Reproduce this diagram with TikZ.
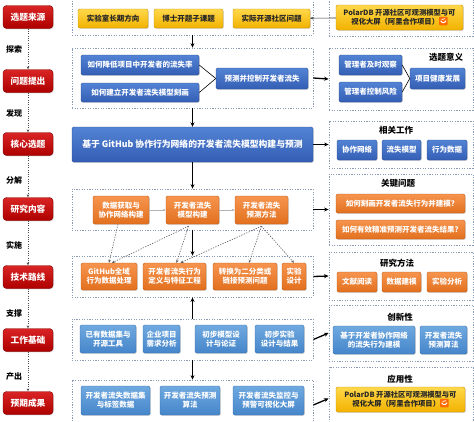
\documentclass[tikz,border=0pt]{standalone}
\usepackage{fontspec}
\setmainfont{Noto Sans CJK SC}
\usetikzlibrary{arrows.meta,shadows}
\definecolor{redT}{HTML}{D92424}
\definecolor{redB}{HTML}{AE0000}
\definecolor{redD}{HTML}{7F0000}
\definecolor{yelT}{HTML}{FFD84A}
\definecolor{yelB}{HTML}{F2B200}
\definecolor{yelD}{HTML}{C89200}
\definecolor{bluT}{HTML}{5383D4}
\definecolor{bluB}{HTML}{335EB4}
\definecolor{bluD}{HTML}{2A4F98}
\definecolor{lbT}{HTML}{6FA9E0}
\definecolor{lbB}{HTML}{4585CA}
\definecolor{lbD}{HTML}{3A72AE}
\definecolor{orT}{HTML}{F6944E}
\definecolor{orB}{HTML}{E2701E}
\definecolor{orD}{HTML}{BE5A12}
\definecolor{contc}{HTML}{8C9BB4}
\definecolor{aliorange}{HTML}{FF6A00}
\begin{document}
\begin{tikzpicture}[x=1pt,y=-1pt,
  wh/.style 2 args={minimum width=#1pt, minimum height=#2pt},
  box/.style={rectangle, rounded corners=1.5pt, inner sep=1pt, align=center,
    font=\bfseries\fontsize{7.5}{9}\selectfont, text=white, line width=0.4pt,
    drop shadow={shadow xshift=0.8pt, shadow yshift=-0.8pt, opacity=0.3}},
  redbox/.style={box, rounded corners=3.5pt, draw=redD, top color=redT, bottom color=redB,
    font=\bfseries\fontsize{8.7}{10}\selectfont, minimum width=50pt, minimum height=23pt},
  ybox/.style={box, draw=yelD, top color=yelT, bottom color=yelB, text=black!85},
  bbox/.style={box, draw=bluD, top color=bluT, bottom color=bluB},
  lbbox/.style={box, draw=lbD, top color=lbT, bottom color=lbB},
  obox/.style={box, draw=orD, top color=orT, bottom color=orB},
  cont/.style={rectangle, draw=contc, line width=0.8pt, dash pattern=on 1.2pt off 1.4pt, inner sep=0pt},
  ttl/.style={font=\bfseries\fontsize{8.5}{10}\selectfont, text=black, inner sep=0pt},
  side/.style={font=\bfseries\fontsize{8}{10}\selectfont, text=black, inner sep=0pt},
  arr/.style={-{Stealth[length=4.5pt,width=4pt]}, line width=1.3pt, black},
  thin/.style={-{Stealth[length=3pt,width=2.6pt]}, line width=0.6pt, black!80},
  garr/.style={-{Stealth[length=3pt,width=2.6pt]}, line width=0.6pt, black!30},
  darr/.style={-{Stealth[length=3pt,width=2.6pt]}, line width=0.6pt, black!65, dash pattern=on 1.3pt off 1.3pt},
  larr/.style={-{Stealth[length=3pt,width=2.6pt]}, line width=0.7pt, black!70, dash pattern=on 1pt off 1.3pt},
  brk/.style={line width=0.6pt, black}
]
\useasboundingbox (0,0) rectangle (474,421);
\clip (0,0) rectangle (474,421);

% ---------- left column ----------
\node[redbox] (L1) at (28,17) {选题来源};
\node[redbox] (L2) at (28,81) {问题提出};
\node[redbox] (L3) at (28,144) {核心选题};
\node[redbox] (L4) at (28,209) {研究内容};
\node[redbox] (L5) at (28,277) {技术路线};
\node[redbox] (L6) at (28,340) {工作基础};
\node[redbox] (L7) at (28,403) {预期成果};
\node[side] (S1) at (14,49) {探索};
\node[side] (S2) at (14,113) {发现};
\node[side] (S3) at (14,180) {分解};
\node[side] (S4) at (14,245) {实施};
\node[side] (S5) at (14,313) {支撑};
\node[side] (S6) at (14,376) {产出};
\draw[larr] (L1) -- (L2);
\draw[larr] (L2) -- (L3);
\draw[larr] (L3) -- (L4);
\draw[larr] (L4) -- (L5);
\draw[larr] (L5) -- (L6);
\draw[larr] (L6) -- (L7);

% ---------- containers ----------
\node[cont, wh={241}{40}] (c1) at (192.5,15) {};
\node[cont, wh={144}{41}] (s1) at (401,15.5) {};
\node[cont, wh={241}{60}] (c2) at (192.5,78) {};
\node[cont, wh={144}{62}] (s2) at (401,79) {};
\node[cont, wh={144}{47}] (s3) at (401,144.5) {};
\node[cont, wh={241}{41}] (c4) at (192.5,209.5) {};
\node[cont, wh={144}{71}] (s4) at (401,209.5) {};
\node[cont, wh={241}{41}] (c5) at (192.5,276.5) {};
\node[cont, wh={144}{48}] (s5) at (401,276) {};
\node[cont, wh={241}{41}] (c6) at (192.5,339.5) {};
\node[cont, wh={144}{56}] (s6) at (401,333) {};
\node[cont, wh={241}{50}] (c7) at (192.5,405) {};
\node[cont, wh={144}{63}] (s7) at (401,398.5) {};

% ---------- row 1 ----------
\node[ybox, wh={70}{19}] (Y1) at (113,18.5) {实验室长期方向};
\node[ybox, wh={69}{19}] (Y2) at (188.5,18.5) {博士开题子课题};
\node[ybox, wh={77}{19}] (Y3) at (271.5,18.5) {实际开源社区问题};
\node[ybox, wh={127}{25}, font=\bfseries\fontsize{7.3}{9}\selectfont] (Y4) at (399.5,17.5)
  {PolarDB 开源社区可观测模型与可\\视化大屏（阿里合作项目）\tikz[baseline=-0.5pt,x=1pt,y=1pt]{\fill[aliorange, rounded corners=0.8pt] (0,-1) rectangle (8.5,7.5); \draw[white,line width=1pt] (1.6,3.6) .. controls (3,1) and (5.5,1) .. (7,3.6); \draw[white,line width=0.8pt] (2.5,4.8) -- (6,5.6);}};
\draw[thin] (Y4) -- (Y3);

% ---------- row 2 ----------
\node[bbox, wh={118}{20}] (Q1) at (140,65) {如何降低项目中开发者的流失率};
\node[bbox, wh={118}{19}] (Q2) at (140,92.5) {如何建立开发者流失模型刻画};
\node[bbox, wh={92}{21}] (P) at (262,78.5) {预测并控制开发者流失};
\draw[brk] (Q1.east) -- (P.west);
\draw[brk] (Q2.east) -- (P.west);
\node[ttl] (T2) at (446,57.5) {选题意义};
\node[bbox, wh={63}{20}] (M1) at (370.5,65) {管理者及时观察};
\node[bbox, wh={63}{20}] (M2) at (370.5,92) {管理者控制风险};
\node[bbox, wh={55}{21}] (H) at (437.5,78.5) {项目健康发展};
\draw[brk] (M1.east) -- (H.west);
\draw[brk] (M2.east) -- (H.west);

% ---------- row 3 ----------
\node[bbox, wh={241}{35}, font=\bfseries\fontsize{8.8}{10}\selectfont] (big) at (192.5,144.5) {基于 GitHub 协作行为网络的开发者流失模型构建与预测};
\node[ttl] (T3) at (396,130.5) {相关工作};
\node[bbox, wh={40}{20}] (W31) at (357,150) {协作网络};
\node[bbox, wh={39}{20}] (W32) at (401.5,150) {流失模型};
\node[bbox, wh={40}{20}] (W33) at (447,150) {行为数据};

% ---------- row 4 ----------
\node[obox, wh={56}{28}] (R1) at (121,210) {数据获取与\\协作网络构建};
\node[obox, wh={53}{28}] (R2) at (192.5,210) {开发者流失\\模型构建};
\node[obox, wh={53}{28}] (R3) at (261.5,210) {开发者流失\\预测方法};
\draw[garr] (R1) -- (R2);
\draw[garr] (R2) -- (R3);
\node[ttl] (T4) at (398,183) {关键问题};
\node[obox, wh={129}{19}] (K1) at (400.5,203.5) {如何刻画开发者流失行为并建模?};
\node[obox, wh={129}{19}] (K2) at (400.5,229.5) {如何有效精准预测开发者流失结果?};

% ---------- row 5 ----------
\node[obox, wh={56}{27}] (G1) at (109,276.5) {GitHub全域\\行为数据处理};
\node[obox, wh={63}{27}] (G2) at (174.5,276.5) {开发者流失行为\\定义与特征工程};
\node[obox, wh={64}{27}] (G3) at (245,276.5) {转换为二分类或\\链接预测问题};
\node[obox, wh={24}{27}] (G4) at (294,276.5) {实验\\设计};
\node[ttl] (T5) at (397,263) {研究方法};
\node[obox, wh={40}{20}] (M51) at (357,282) {文献阅读};
\node[obox, wh={39}{20}] (M52) at (401.5,282) {数据建模};
\node[obox, wh={40}{20}] (M53) at (447,282) {实验分析};
\draw[darr] ([xshift=-3pt]R1.south) -- (G1.north);
\draw[darr] ([xshift=-4pt,yshift=-2pt]R2.south) -- ([xshift=3pt]G1.north);
\draw[darr] ([xshift=-4pt,yshift=-2pt]R2.south) -- ([xshift=2pt]G2.north);
\draw[darr] ([yshift=-2pt]R3.south) -- ([xshift=6pt]G2.north);
\draw[darr] ([yshift=-2pt]R3.south) -- ([xshift=4pt]G3.north);
\draw[darr] ([yshift=-2pt]R3.south) -- (G4.north);

% ---------- row 6 ----------
\node[lbbox, wh={56}{28}] (B1) at (108,339) {已有数据集与\\开源工具};
\node[lbbox, wh={37}{28}] (B2) at (161.5,339) {企业项目\\需求分析};
\node[lbbox, wh={52}{28}] (B3) at (221,339) {初步模型设\\计与论证};
\node[lbbox, wh={49}{28}] (B4) at (279.5,339) {初步实验\\设计与结果};
\node[ttl] (T6) at (400,317) {创新性};
\node[lbbox, wh={82}{28}] (I1) at (374,340) {基于开发者协作网络\\的流失行为建模};
\node[lbbox, wh={47}{28}] (I2) at (443.5,340) {开发者流失\\预测算法};

% ---------- row 7 ----------
\node[lbbox, wh={69}{29}] (E1) at (115.5,400.5) {开发者流失数据集\\与标签数据};
\node[lbbox, wh={60}{29}] (E2) at (190,400.5) {开发者流失预测\\算法};
\node[lbbox, wh={71}{29}] (E3) at (268.5,400.5) {开发者流失监控与\\预警可视化大屏};
\node[ttl] (T7) at (400,379) {应用性};
\node[ybox, wh={129}{25}, font=\bfseries\fontsize{7.3}{9}\selectfont] (Y5) at (400.5,399.5)
  {PolarDB 开源社区可观测模型与可\\视化大屏（阿里合作项目）\tikz[baseline=-0.5pt,x=1pt,y=1pt]{\fill[aliorange, rounded corners=0.8pt] (0,-1) rectangle (8.5,7.5); \draw[white,line width=1pt] (1.6,3.6) .. controls (3,1) and (5.5,1) .. (7,3.6); \draw[white,line width=0.8pt] (2.5,4.8) -- (6,5.6);}};

% ---------- main arrows ----------
\draw[arr] (c1.south) -- (c2.north);
\draw[arr] (c2.south) -- (big.north);
\draw[arr] (big.south) -- (c4.north);
\draw[arr] (c4.south) -- (c5.north);
\draw[arr] (c6.north) -- (c5.south);
\draw[arr] (c6.south) -- (c7.north);
\draw[arr] (c2.east) -- (s2.west);
\draw[arr] (big.east) -- (s3.west);
\draw[arr] (c4.east) -- (s4.west);
\draw[arr] (c5.east) -- (s5.west);
\draw[arr] (c6.east) -- (s6.west);
\draw[arr] (c7.east) -- (s7.west);
\end{tikzpicture}
\end{document}
